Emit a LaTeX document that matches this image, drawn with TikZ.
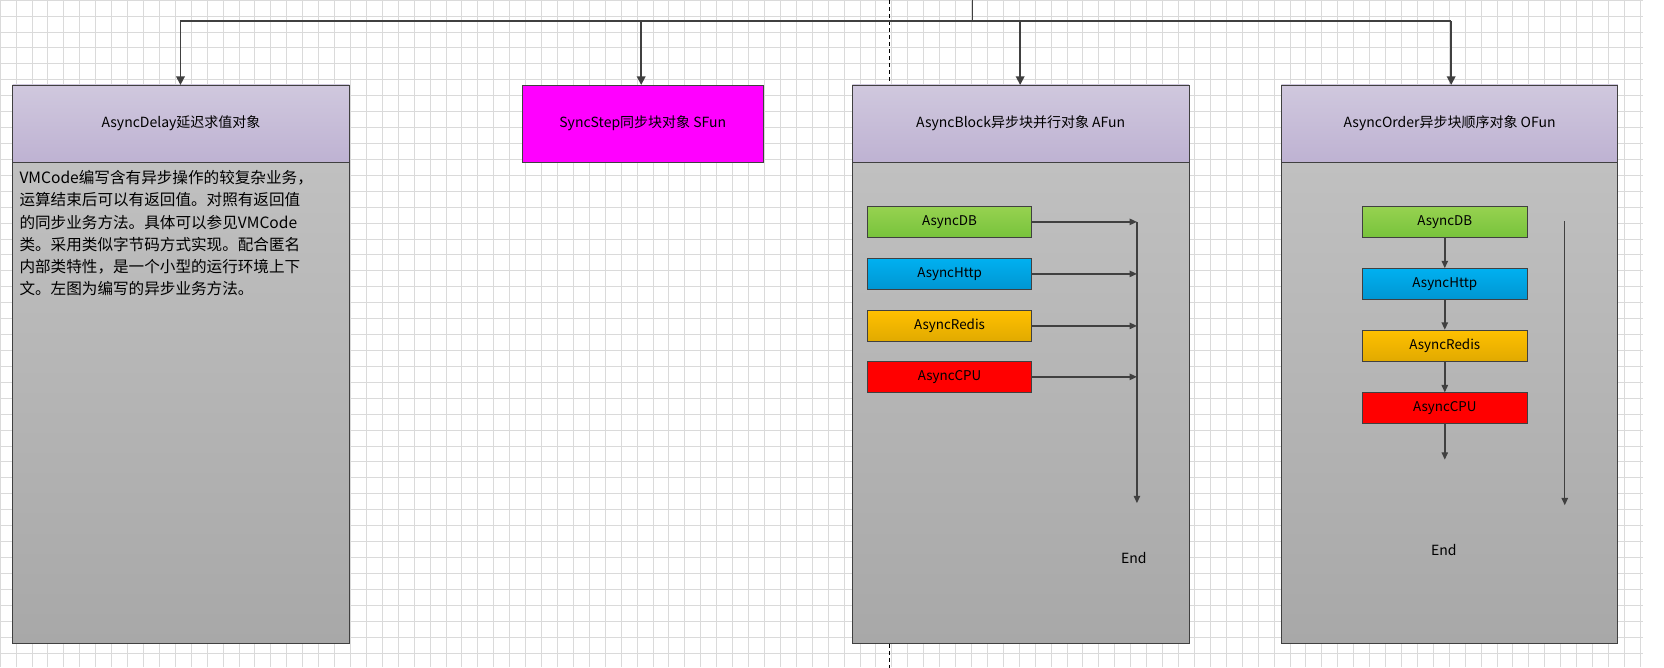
\documentclass[tikz,border=0pt]{standalone}
\usepackage{fontspec}
\setmainfont{Noto Sans CJK SC}
\usetikzlibrary{arrows.meta}
\definecolor{gridc}{HTML}{DADADA}
\definecolor{lineC}{HTML}{404040}
\tikzset{
  hdr/.style={draw=lineC,line width=0.4pt,top color={rgb,255:red,208;green,200;blue,222},bottom color={rgb,255:red,190;green,178;blue,210}},
  body/.style={draw=lineC,line width=0.4pt,top color={rgb,255:red,192;green,192;blue,192},bottom color={rgb,255:red,168;green,168;blue,168}},
  sbox/.style={draw=lineC,line width=0.4pt,minimum width=82.3pt,minimum height=15.4pt,inner sep=0pt,font=\fontsize{6.7}{7.5}\selectfont},
  arr/.style={draw=lineC,line width=0.85pt,-{Triangle[length=4.3pt,width=4.3pt]}},
  thin/.style={draw=lineC,line width=0.7pt,-{Triangle[length=3.7pt,width=3.2pt]}},
  lbl/.style={font=\fontsize{7}{8.5}\selectfont}
}
\begin{document}
\begin{tikzpicture}[x=0.5308pt,y=-0.5308pt]
\useasboundingbox (0,0) rectangle (1567.5,629.2);
\fill[white] (0,0) rectangle (1567.5,629.2);
\draw[gridc,line width=0.3pt] (0,0) grid[step=7.962pt] (1548,628);
\draw[black,dashed,line width=0.3pt,dash pattern=on 2pt off 1.5pt] (838,0) -- (838,629);
% top connectors
\coordinate (t0) at (916,0);
\coordinate (tj) at (916,20);
\coordinate (tl) at (170,20);
\coordinate (tr) at (1367,20);
\draw[draw=lineC,line width=0.85pt] (t0) -- (tj) (tl) -- (tr);
% boxes
\draw[hdr] (12,80) rectangle (329,153);
\draw[body] (12,153) rectangle (329,606);
\node[lbl] (h1) at (170.5,116) {AsyncDelay延迟求值对象};
\node[anchor=north west,align=left,inner sep=0pt,font=\fontsize{7.8}{11.15}\selectfont] (t1) at (18,160) {VMCode编写含有异步操作的较复杂业务，\\运算结束后可以有返回值。对照有返回值\\的同步业务方法。具体可以参见VMCode\\类。采用类似字节码方式实现。配合匿名\\内部类特性，是一个小型的运行环境上下\\文。左图为编写的异步业务方法。};
\draw[draw=lineC,line width=0.4pt,fill={rgb,255:red,255;green,0;blue,255}] (492,80) rectangle (719,153);
\node[lbl] (h2) at (605.5,116) {SyncStep同步块对象 SFun};
\draw[hdr] (803,80) rectangle (1120,153);
\draw[body] (803,153) rectangle (1120,606);
\node[lbl] (h3) at (961.5,116) {AsyncBlock异步块并行对象 AFun};
\draw[hdr] (1207,80) rectangle (1524,153);
\draw[body] (1207,153) rectangle (1524,606);
\node[lbl] (h4) at (1365.5,116) {AsyncOrder异步块顺序对象 OFun};
\coordinate (e1) at (170,80);
\coordinate (e2) at (604,80);
\coordinate (e3) at (961,80);
\coordinate (e4) at (1367,80);
\coordinate (s2) at (604,20);
\coordinate (s3) at (961,20);
\draw[arr] (tl) -- (e1);
\draw[arr] (s2) -- (e2);
\draw[arr] (s3) -- (e3);
\draw[arr] (tr) -- (e4);
% AFun
\node[sbox,top color={rgb,255:red,150;green,210;blue,80},bottom color={rgb,255:red,120;green,195;blue,60}] (a1) at (894.5,209) {AsyncDB};
\node[sbox,top color={rgb,255:red,0;green,176;blue,240},bottom color={rgb,255:red,0;green,150;blue,210}] (a2) at (894.5,258) {AsyncHttp};
\node[sbox,top color={rgb,255:red,255;green,192;blue,0},bottom color={rgb,255:red,225;green,170;blue,0}] (a3) at (894.5,307) {AsyncRedis};
\node[sbox,fill=red] (a4) at (894.5,355) {AsyncCPU};
\coordinate (b1) at (1071,209);
\coordinate (b2) at (1071,258);
\coordinate (b3) at (1071,307);
\coordinate (b4) at (1071,355);
\coordinate (bend) at (1071,474);
\draw[thin] (a1) -- (b1);
\draw[thin] (a2) -- (b2);
\draw[thin] (a3) -- (b3);
\draw[thin] (a4) -- (b4);
\draw[thin] (b1) -- (bend);
\node[lbl] (end1) at (1068,526) {End};
% OFun
\node[sbox,top color={rgb,255:red,150;green,210;blue,80},bottom color={rgb,255:red,120;green,195;blue,60}] (o1) at (1361,209) {AsyncDB};
\node[sbox,top color={rgb,255:red,0;green,176;blue,240},bottom color={rgb,255:red,0;green,150;blue,210}] (o2) at (1361,267.5) {AsyncHttp};
\node[sbox,top color={rgb,255:red,255;green,192;blue,0},bottom color={rgb,255:red,225;green,170;blue,0}] (o3) at (1361,325.5) {AsyncRedis};
\node[sbox,fill=red] (o4) at (1361,384.5) {AsyncCPU};
\coordinate (oe) at (1361,433);
\draw[thin] (o1) -- (o2);
\draw[thin] (o2) -- (o3);
\draw[thin] (o3) -- (o4);
\draw[thin] (o4) -- (oe);
\coordinate (ls) at (1474,208);
\coordinate (le) at (1474,476);
\draw[thin] (ls) -- (le);
\node[lbl] (end2) at (1360,518) {End};
\end{tikzpicture}
\end{document}
